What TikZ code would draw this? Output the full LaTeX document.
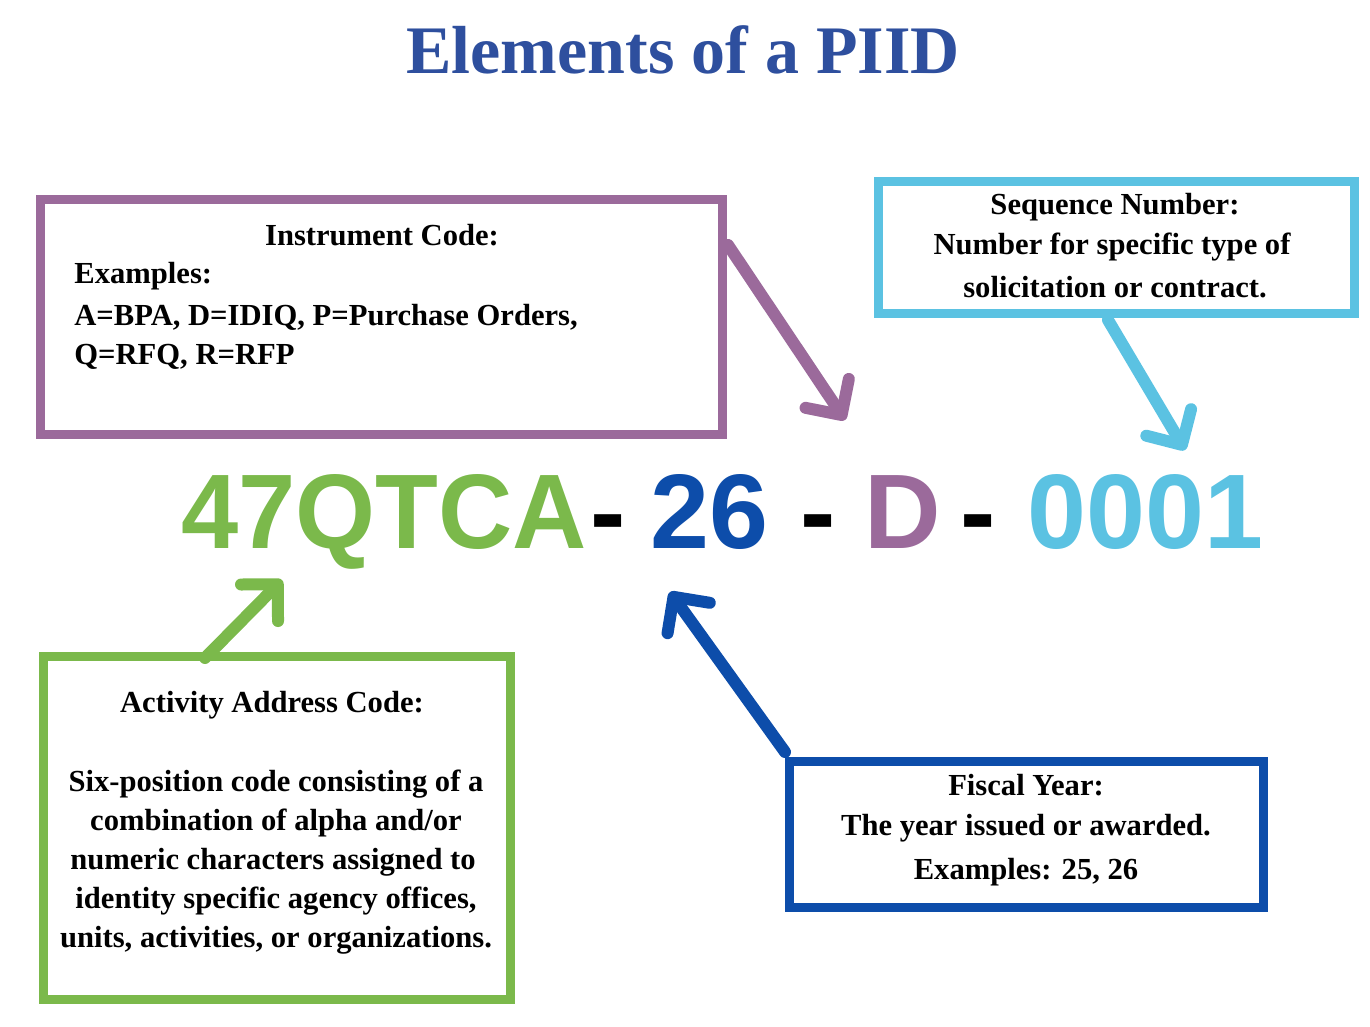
\documentclass[tikz,border=0pt]{standalone}
\usepackage{fontspec}
\setmainfont{Liberation Serif}
\setsansfont{Liberation Sans}
\usetikzlibrary{arrows.meta}
\definecolor{cpur}{HTML}{9B6A9B}
\definecolor{ccya}{HTML}{5BC2E2}
\definecolor{cgrn}{HTML}{7BB94B}
\definecolor{cblu}{HTML}{0D4DAA}
\definecolor{ctit}{HTML}{2E4F9E}
\begin{document}
\begin{tikzpicture}[x=0.5pt,y=-0.5pt,
 box/.style={draw=#1,line width=4.5pt,inner sep=0pt},
 txt/.style={font=\fontsize{15.3pt}{17pt}\selectfont\bfseries,inner sep=0pt},
 big/.style={font=\fontsize{53pt}{56pt}\selectfont\sffamily\bfseries,inner sep=0pt,anchor=base west},
 arr/.style={draw=#1,line width=6pt,line cap=round,-{Straight Barb[length=13pt,width=26pt,line width=6pt,round]}}]
\useasboundingbox (0,0) rectangle (1370,1027);
\node[font=\fontsize{34pt}{36pt}\selectfont\bfseries,text=ctit] (title) at (683,50) {Elements of a PIID};
% boxes
\draw[box=cpur] (40,200) rectangle (722,434); \node (pbox) at (381,317) {};
\draw[box=ccya] (878,182) rectangle (1354,313); \node (cbox) at (1116,248) {};
\draw[box=cgrn] (43,656) rectangle (510,999); \node (gbox) at (276,828) {};
\draw[box=cblu] (789,761) rectangle (1263,907); \node (bbox) at (1026,834) {};
% texts
\node[txt] (p1) at (382,235) {Instrument Code:};
\node[txt,anchor=west] (p2) at (74,276) {Examples:};
\node[txt,anchor=west] (p3) at (74,317) {A=BPA, D=IDIQ, P=Purchase Orders,};
\node[txt,anchor=west] (p4) at (74,357) {Q=RFQ, R=RFP};
\node[txt] (c1) at (1115,207) {Sequence Number:};
\node[txt] (c2) at (1112,247) {Number for specific type of};
\node[txt] (c3) at (1115,287) {solicitation or contract.};
\node[txt] (g1) at (272,705) {Activity Address Code:};
\node[txt] (g2) at (276,784) {Six-position code consisting of a};
\node[txt] (g3) at (276,823) {combination of alpha and/or};
\node[txt] (g4) at (273,862) {numeric characters assigned to};
\node[txt] (g5) at (276,901) {identity specific agency offices,};
\node[txt] (g6) at (276,940) {units, activities, or organizations.};
\node[txt] (b1) at (1026,785) {Fiscal Year:};
\node[txt] (b2) at (1026,828) {The year issued or awarded.};
\node[txt] (b3) at (1026,872) {Examples: 25, 26};
% code
\node[big,text=cgrn,xscale=0.97] (aac) at (181,548) {47QTCA};
\node[big] (d1) at (590,548) {-};
\node[big,text=cblu] (fy) at (650,548) {26};
\node[big] (d2) at (800,548) {-};
\node[big,text=cpur] (ic) at (864,548) {D};
\node[big] (d3) at (960,548) {-};
\node[big,text=ccya] (sn) at (1027,548) {0001};
% arrows
\coordinate (pa) at (728,245); \coordinate (pb) at (845,420);
\coordinate (ca) at (1108,320); \coordinate (cb) at (1185,450);
\coordinate (ga) at (205,658); \coordinate (gb) at (282,580);
\coordinate (ba) at (785,752); \coordinate (bb) at (670,592);
\draw[arr=cpur] (pa) -- (pb);
\draw[arr=ccya] (ca) -- (cb);
\draw[arr=cgrn] (ga) -- (gb);
\draw[arr=cblu] (ba) -- (bb);
\end{tikzpicture}
\end{document}
